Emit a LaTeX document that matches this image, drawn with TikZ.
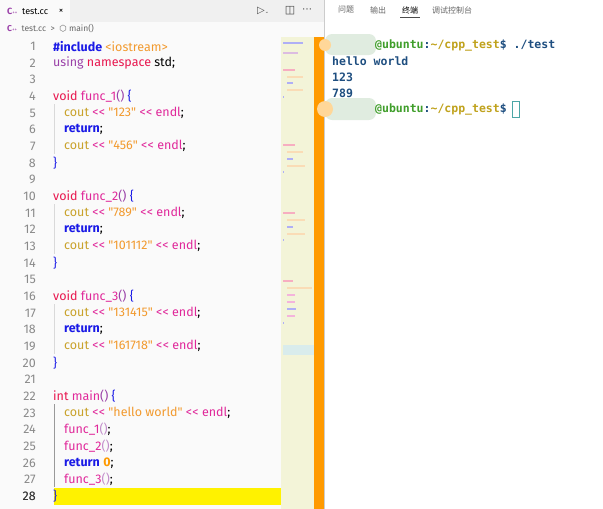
\documentclass[tikz,border=0pt]{standalone}
\usepackage{fontspec}
\setmainfont{Fira Sans}
\newfontfamily\cjk{Noto Sans CJK SC}
\newfontfamily\mono{DejaVu Sans Mono}
\newfontfamily\sym{DejaVu Sans}
\definecolor{kwblue}{HTML}{1A1AE6}
\definecolor{kwred}{HTML}{E8174F}
\definecolor{fnpink}{HTML}{E0289A}
\definecolor{cout}{HTML}{C9A22A}
\definecolor{str}{HTML}{F29A2E}
\definecolor{purp}{HTML}{9A40A8}
\definecolor{num}{HTML}{8A8A8A}
\definecolor{mini}{HTML}{F3F4D8}
\definecolor{orng}{HTML}{FF9A00}
\definecolor{tgreen}{HTML}{3F9E2A}
\definecolor{tyel}{HTML}{C0A21C}
\definecolor{tblue}{HTML}{1E4E80}
\newcommand\LL{\mbox{<}\kern0.3pt\mbox{<}}
\newcommand\Q{\textquotedbl}
\begin{document}
\begin{tikzpicture}[x=1pt,y=-1pt,
  ln/.style={anchor=east,inner sep=0,text=num,font=\fontsize{12.5}{14}\selectfont},
  code/.style={anchor=west,inner sep=0,font=\fontsize{12.5}{14}\selectfont},
  term/.style={anchor=west,inner sep=0,font=\mono\bfseries\fontsize{11.5}{13}\selectfont},
  tab/.style={inner sep=0,text=black!60,font=\cjk\fontsize{8}{10}\selectfont}]
\useasboundingbox (0,0) rectangle (603,509);
\fill[white] (0,0) rectangle (603,509);
\fill[black!2] (0,22) rectangle (324,509);
\fill[black!6] (0,0) rectangle (324,22);
\fill[black!2] (0,0) rectangle (70,22);
\node[code,font=\fontsize{9}{11}\selectfont] (tabt) at (7,11) {{\color{purp}\textbf{C}\tiny++}\ \ test.cc};
\node[inner sep=0,font=\fontsize{9}{11}\selectfont] (tabx) at (61,11) {×};
\node[inner sep=0,font=\sym\fontsize{10}{11}\selectfont,text=black!70] (run) at (263,11) {▷\tiny⌄};
\node[inner sep=0,font=\sym\fontsize{11}{11}\selectfont,text=black!70] (split) at (290,11) {◫};
\node[inner sep=0,font=\sym\fontsize{10}{11}\selectfont,text=black!70] (more) at (307,11) {⋯};
\node[code,text=black!60,font=\fontsize{8.5}{10}\selectfont] (bc) at (7,29) {{\color{purp}\textbf{C}\tiny++}\ \ test.cc \ \textgreater\ \ {\sym ⬡} main()};
% minimap
\fill[mini] (281,37) rectangle (314,509);
\fill[orng] (314,37) rectangle (324,509);
\fill[teal!15] (283,345) rectangle (314,355);
\foreach \yy/\xa/\xb/\c in {43/283/303/kwblue,53/283/298/purp,70/283/295/kwred,77/287/303/str,83/287/293/kwblue,90/287/303/str,97/283/284/kwblue,
 145/283/295/kwred,152/287/303/str,159/287/293/kwblue,166/287/305/str,172/283/284/kwblue,
 213/283/295/kwred,220/287/305/str,227/287/293/kwblue,234/287/305/str,240/283/284/kwblue,
 281/283/293/kwred,288/287/312/str,295/287/295/fnpink,302/287/295/fnpink,309/287/296/kwblue,316/287/295/fnpink,323/283/284/kwblue}
  {\fill[\c!35] (\xa,\yy-1) rectangle (\xb,\yy+1);}
\draw[black!20] (324,0) -- (324,509);
\draw[black!15] (54,104) -- (54,154);
\draw[black!15] (54,204) -- (54,254);
\draw[black!15] (54,304) -- (54,354);
\draw[black!40] (54,404) -- (54,487);
\fill[yellow] (54,488) rectangle (281,505);
\foreach \i in {1,...,28}{\node[ln] (n\i) at (36,29.6+16.67*\i) {\i};}
\node[ln,text=black!80] at (36,29.6+16.67*28) {28};
\def\Y#1{29.6+16.67*#1}
\node[code] (c1) at (53,{\Y1}) {\textcolor{kwblue}{\textbf{\#include}} \textcolor{str}{<iostream>}};
\node[code] (c2) at (53,{\Y2}) {\textcolor{purp}{using} \textcolor{kwred}{namespace} std;};
\newcommand\fn[1]{\node[code] at (53,{\Y{#1}}) }
\newcommand\co[3]{\node[code] at (64,{\Y{#1}}) {\textcolor{cout}{cout} \textcolor{fnpink}{\LL} \textcolor{str}{\Q#2\Q} \textcolor{fnpink}{\LL} \textcolor{fnpink}{endl};};}
\newcommand\rt[1]{\node[code] at (64,{\Y{#1}}) {\textcolor{kwblue}{\textbf{return}};};}
\newcommand\cl[1]{\node[code] at (53,{\Y{#1}}) {\textcolor{kwblue}{\}}};}
\fn4 {\textcolor{kwred}{void} \textcolor{fnpink}{func\_1}\textcolor{purp}{()} \textcolor{kwblue}{\{}};
\co5{123}{} \rt6 \co7{456}{} \cl8
\fn{10} {\textcolor{kwred}{void} \textcolor{fnpink}{func\_2}\textcolor{purp}{()} \textcolor{kwblue}{\{}};
\co{11}{789}{} \rt{12} \co{13}{101112}{} \cl{14}
\fn{16} {\textcolor{kwred}{void} \textcolor{fnpink}{func\_3}\textcolor{purp}{()} \textcolor{kwblue}{\{}};
\co{17}{131415}{} \rt{18} \co{19}{161718}{} \cl{20}
\fn{22} {\textcolor{kwred}{int} \textcolor{fnpink}{main}\textcolor{purp}{()} \textcolor{kwblue}{\{}};
\co{23}{hello world}{}
\node[code] at (64,{\Y{24}}) {\textcolor{fnpink}{func\_1}\textcolor{purp!60}{()};};
\node[code] at (64,{\Y{25}}) {\textcolor{fnpink}{func\_2}\textcolor{purp!60}{()};};
\node[code] at (64,{\Y{26}}) {\textcolor{kwblue}{\textbf{return}} \textcolor{orng}{\textbf{0}};};
\node[code] at (64,{\Y{27}}) {\textcolor{fnpink}{func\_3}\textcolor{purp!60}{()};};
\cl{28}
\node[tab] (t1) at (346,10) {问题};
\node[tab] (t2) at (378,10) {输出};
\node[tab,text=black] (t3) at (410,10) {终端};
\draw[black!70,line width=0.8] (400,17) -- (420,17);
\node[tab] (t4) at (452,10) {调试控制台};
\fill[green!40!black,opacity=0.12,rounded corners=7] (325,34) rectangle (376,55);
\fill[orng!40] (325,45) circle (6);
\fill[green!40!black,opacity=0.12,rounded corners=7] (325,98) rectangle (376,120);
\fill[orng!40] (325,109) circle (8);
\node[term] (p1) at (375,45) {\textcolor{tgreen}{@ubuntu}\textcolor{tblue}{:}\textcolor{tyel}{\char`\~/cpp\_test}\textcolor{tblue}{\$ ./test}};
\node[term,text=tblue] (o1) at (332,61) {hello world};
\node[term,text=tblue] (o2) at (332,77) {123};
\node[term,text=tblue] (o3) at (332,93) {789};
\node[term] (p2) at (375,109) {\textcolor{tgreen}{@ubuntu}\textcolor{tblue}{:}\textcolor{tyel}{\char`\~/cpp\_test}\textcolor{tblue}{\$}};
\draw[teal!70] (512,101) rectangle (519,117);
\end{tikzpicture}
\end{document}
